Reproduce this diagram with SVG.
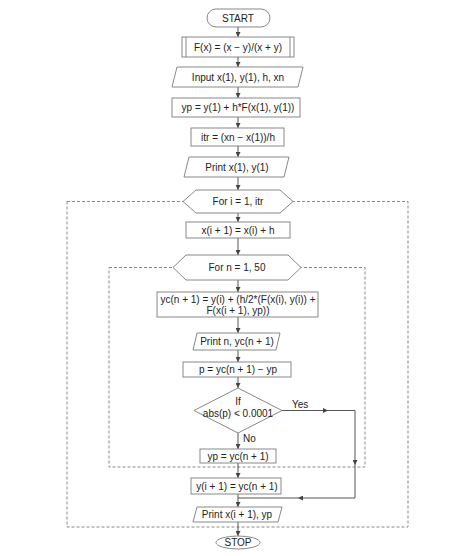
<svg xmlns="http://www.w3.org/2000/svg" width="474" height="556" viewBox="0 0 474 556">
<defs>
<marker id="ah" viewBox="0 0 8 8" refX="8" refY="4" markerWidth="5" markerHeight="5" markerUnits="userSpaceOnUse" orient="auto">
<path d="M0,0 L8,4 L0,8 z" fill="#444"/>
</marker>
<style>
.s{fill:#fff;stroke:#888;stroke-width:1}
.d{fill:none;stroke:#888;stroke-width:1;stroke-dasharray:3,2}
.c{fill:none;stroke:#555;stroke-width:1}
.a{fill:none;stroke:#555;stroke-width:1;marker-end:url(#ah)}
text{font-family:"Liberation Sans",Arial,sans-serif;font-size:10px;fill:#222;text-anchor:middle}
.l{text-anchor:start}
</style>
</defs>
<rect width="474" height="556" fill="#fff"/>
<g id="loops">
<rect class="d" x="67" y="201.5" width="341" height="325.5"/>
<rect class="d" x="109" y="267.5" width="256" height="199.5"/>
</g>
<g id="connectors">
<path class="a" d="M238,27 V37"/>
<path class="a" d="M238,57 V67"/>
<path class="a" d="M238,87 V98"/>
<path class="a" d="M238,117 V128"/>
<path class="a" d="M238,146 V157"/>
<path class="a" d="M238,177 V190"/>
<path class="a" d="M238,213 V222"/>
<path class="a" d="M238,238 V255"/>
<path class="a" d="M238,280 V292"/>
<path class="a" d="M238,317 V333"/>
<path class="a" d="M238,350 V362"/>
<path class="a" d="M238,377 V388"/>
<path class="a" d="M238,433 V449"/>
<path class="a" d="M238,463 V478"/>
<path class="a" d="M238,494 V507"/>
<path class="a" d="M238,522 V536"/>
<path class="a" d="M282,410.5 H328"/>
<path class="a" d="M328,410.5 H355 V465"/>
<path class="a" d="M355,465 V498 H298"/>
<path class="c" d="M298,498 H238"/>
</g>
<g id="start">
<rect class="s" x="207" y="9" width="63" height="18" rx="9"/>
<text x="238" y="21.5">START</text>
</g>
<g id="fx">
<rect class="s" x="182" y="37" width="112" height="20"/>
<path class="c" d="M186,37 V57 M290,37 V57" style="stroke:#888"/>
<text x="238" y="50.5">F(x) = (x − y)/(x + y)</text>
</g>
<g id="input">
<polygon class="s" points="177,67 303,67 298,87 172,87"/>
<text x="238" y="80.5">Input x(1), y(1), h, xn</text>
</g>
<g id="yp1">
<rect class="s" x="172" y="98" width="128" height="19"/>
<text x="238" y="111">yp = y(1) + h*F(x(1), y(1))</text>
</g>
<g id="itr">
<rect class="s" x="191" y="128" width="93" height="18"/>
<text x="238" y="140.5">itr = (xn − x(1))/h</text>
</g>
<g id="print1">
<polygon class="s" points="189,157 289,157 284,177 184,177"/>
<text x="237" y="170.5">Print x(1), y(1)</text>
</g>
<g id="fori">
<polygon class="s" points="183,201.5 196,190 280,190 293,201.5 280,213 196,213"/>
<text x="238" y="205">For i = 1, itr</text>
</g>
<g id="xi">
<rect class="s" x="186" y="222" width="104" height="16"/>
<text x="238" y="233.5">x(i + 1) = x(i) + h</text>
</g>
<g id="forn">
<polygon class="s" points="173,267.5 186,255 288,255 301,267.5 288,280 186,280"/>
<text x="237" y="271">For n = 1, 50</text>
</g>
<g id="yc">
<rect class="s" x="157" y="292" width="161" height="25"/>
<text x="238" y="302.5">yc(n + 1) = y(i) + (h/2*(F(x(i), y(i)) +</text>
<text x="238" y="313.5">F(x(i + 1), yp))</text>
</g>
<g id="printn">
<polygon class="s" points="197,333 280,333 276,350 193,350"/>
<text x="237" y="345">Print n, yc(n + 1)</text>
</g>
<g id="p">
<rect class="s" x="183" y="362" width="108" height="15"/>
<text x="238" y="373">p = yc(n + 1) − yp</text>
</g>
<g id="cond">
<polygon class="s" points="238,388 282,410.5 238,433 194,410.5"/>
<text x="238" y="405">If</text>
<text x="238" y="416.5">abs(p) &lt; 0.0001</text>
<text class="l" x="292" y="408">Yes</text>
<text class="l" x="243" y="442">No</text>
</g>
<g id="ypc">
<rect class="s" x="200" y="449" width="76" height="14"/>
<text x="238" y="459.5">yp = yc(n + 1)</text>
</g>
<g id="yi">
<rect class="s" x="191" y="478" width="90" height="16"/>
<text x="237" y="489.5">y(i + 1) = yc(n + 1)</text>
</g>
<g id="print2">
<polygon class="s" points="197,507 282,507 278,522 193,522"/>
<text x="237" y="518">Print x(i + 1), yp</text>
</g>
<g id="stop">
<ellipse class="s" cx="238" cy="542.5" rx="22" ry="6.5"/>
<text x="238" y="546">STOP</text>
</g>
</svg>
